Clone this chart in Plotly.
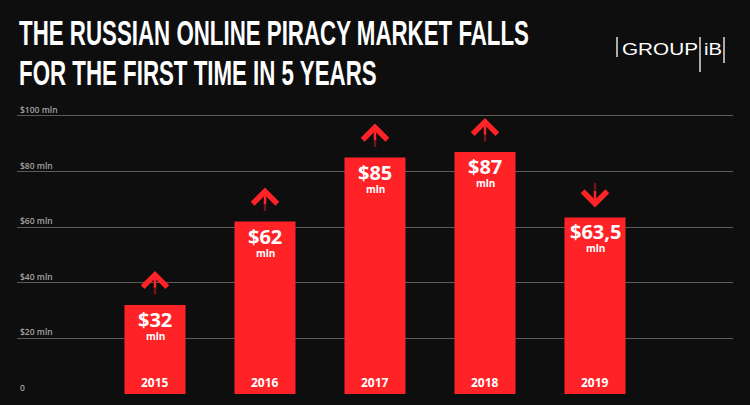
import plotly.graph_objects as go

years = ["2015", "2016", "2017", "2018", "2019"]
values = [32, 62, 85, 87, 63.5]
value_labels = ["$32", "$62", "$85", "$87", "$63,5"]
trend = ["up", "up", "up", "up", "down"]
tick_vals = [0, 20, 40, 60, 80, 100]
tick_text = ["0", "$20 mln", "$40 mln", "$60 mln", "$80 mln", "$100 mln"]

W, H = 750, 405
SCALE = 2.78           # pixels per $1 mln
YMAX = 105
L, R, B = 17, 733, 394
T = B - YMAX * SCALE
RED = "#ff2227"
BAR_FONT = "Open Sans, Lato, sans-serif"
TITLE_FONT = "Liberation Sans, Arial, sans-serif"


def px(x):
    return (x - L) / (R - L)


def py(y):
    return (B - y) / (B - T)


fig = go.Figure()
fig.add_trace(go.Bar(
    x=years, y=values, width=0.555,
    marker=dict(color=RED, line=dict(width=0)),
    hoverinfo="skip",
))

ann = []
# title
ann.append(dict(xref="paper", yref="paper", x=px(17), y=py(33), xanchor="left", yanchor="middle",
                text="<b>THE RUSSIAN ONLINE PIRACY MARKET FALLS</b>", showarrow=False,
                font=dict(family=TITLE_FONT, size=36, color="white")))
ann.append(dict(xref="paper", yref="paper", x=px(17), y=py(73), xanchor="left", yanchor="middle",
                text="<b>FOR THE FIRST TIME IN 5 YEARS</b>", showarrow=False,
                font=dict(family=TITLE_FONT, size=36, color="white")))
# logo text
ann.append(dict(xref="paper", yref="paper", x=px(620), y=py(50), xanchor="left", yanchor="middle",
                text="GROUP", showarrow=False,
                font=dict(family="Liberation Sans, sans-serif", size=17, color="white")))
ann.append(dict(xref="paper", yref="paper", x=px(702), y=py(50), xanchor="left", yanchor="middle",
                text="iB", showarrow=False,
                font=dict(family="Liberation Sans, sans-serif", size=17, color="white")))

for i, (yr, v, lab, tr) in enumerate(zip(years, values, value_labels, trend)):
    ann.append(dict(x=i, y=v, xref="x", yref="y", yanchor="top", yshift=1, showarrow=False,
                    text="<b>" + lab + "</b>",
                    font=dict(family=BAR_FONT, size=20, color="white")))
    ann.append(dict(x=i, y=v, xref="x", yref="y", yanchor="middle", yshift=-31, showarrow=False,
                    text="<b>mln</b>",
                    font=dict(family=BAR_FONT, size=10, color="white")))
    ann.append(dict(x=i, y=0, xref="x", yref="y", yanchor="bottom", yshift=1, showarrow=False,
                    text="<b>" + yr + "</b>",
                    font=dict(family=BAR_FONT, size=12, color="white")))
    if tr == "up":
        ann.append(dict(x=i, y=v, xref="x", yref="y", text="", showarrow=True,
                        ax=0, ay=18, yshift=34, arrowhead=4, arrowsize=1.9, arrowwidth=2.5,
                        arrowcolor=RED))
        ann.append(dict(x=i, y=v, xref="x", yref="y", text="", showarrow=True,
                        ax=0, ay=9, yshift=18, arrowhead=0, arrowwidth=2.5,
                        arrowcolor="rgba(255,34,39,0.4)"))
    else:
        ann.append(dict(x=i, y=v, xref="x", yref="y", text="", showarrow=True,
                        ax=0, ay=-18, yshift=10, arrowhead=4, arrowsize=1.9, arrowwidth=2.5,
                        arrowcolor=RED))
        ann.append(dict(x=i, y=v, xref="x", yref="y", text="", showarrow=True,
                        ax=0, ay=-9, yshift=27, arrowhead=0, arrowwidth=2.5,
                        arrowcolor="rgba(255,34,39,0.4)"))

shapes = []
for xs, y0, y1 in [(617, 37, 57), (700, 37, 72), (724, 37, 63)]:
    shapes.append(dict(type="line", xref="paper", yref="paper",
                       x0=px(xs), x1=px(xs), y0=py(y0), y1=py(y1),
                       line=dict(color="white", width=1.3)))

fig.update_layout(
    width=W, height=H,
    margin=dict(l=L, r=W - R, t=T, b=H - B, pad=0),
    paper_bgcolor="#0e0e0e", plot_bgcolor="rgba(0,0,0,0)",
    showlegend=False,
    xaxis=dict(type="category", range=[(L - 155) / 110, (R - 155) / 110],
               showticklabels=False, showgrid=False, zeroline=False, ticks=""),
    yaxis=dict(range=[0, YMAX], tickvals=tick_vals, ticktext=tick_text,
               ticklabelposition="inside top", ticks="",
               showgrid=True, gridcolor="rgba(255,255,255,0.32)", gridwidth=1,
               zeroline=False,
               tickfont=dict(family="Open Sans, sans-serif", size=8.5, color="#a3a3a3", weight=600)),
    annotations=ann,
    shapes=shapes,
)

post = """
document.body.style.margin = '0';
document.body.style.background = '#0e0e0e';
function fitTexts() {
  var gd = document.getElementById('{plot_id}');
  if (!gd) return;
  var texts = gd.querySelectorAll('.annotation-text');
  var targets = {
    'THE RUSSIAN ONLINE PIRACY MARKET FALLS': 510,
    'GROUP': 76,
    'iB': 18
  };
  var line1 = null, line2 = null;
  texts.forEach(function (t) {
    t.style.transform = '';
    var s = t.textContent;
    if (s.indexOf('THE RUSSIAN') === 0) line1 = t;
    if (s.indexOf('FOR THE FIRST') === 0) line2 = t;
  });
  var titleScale = 1;
  texts.forEach(function (t) {
    var s = t.textContent;
    if (targets[s]) {
      var w = t.getBBox().width;
      if (w > 0) {
        var k = targets[s] / w;
        if (t === line1) titleScale = k;
        t.style.transformBox = 'fill-box';
        t.style.transformOrigin = 'left center';
        t.style.transform = 'scaleX(' + k + ')';
      }
    }
  });
  if (line2) {
    line2.style.transformBox = 'fill-box';
    line2.style.transformOrigin = 'left center';
    line2.style.transform = 'scaleX(' + titleScale + ')';
  }
}
fitTexts();
setTimeout(fitTexts, 200);
"""

fig.write_html("out.html", post_script=post, config={"displayModeBar": False})
